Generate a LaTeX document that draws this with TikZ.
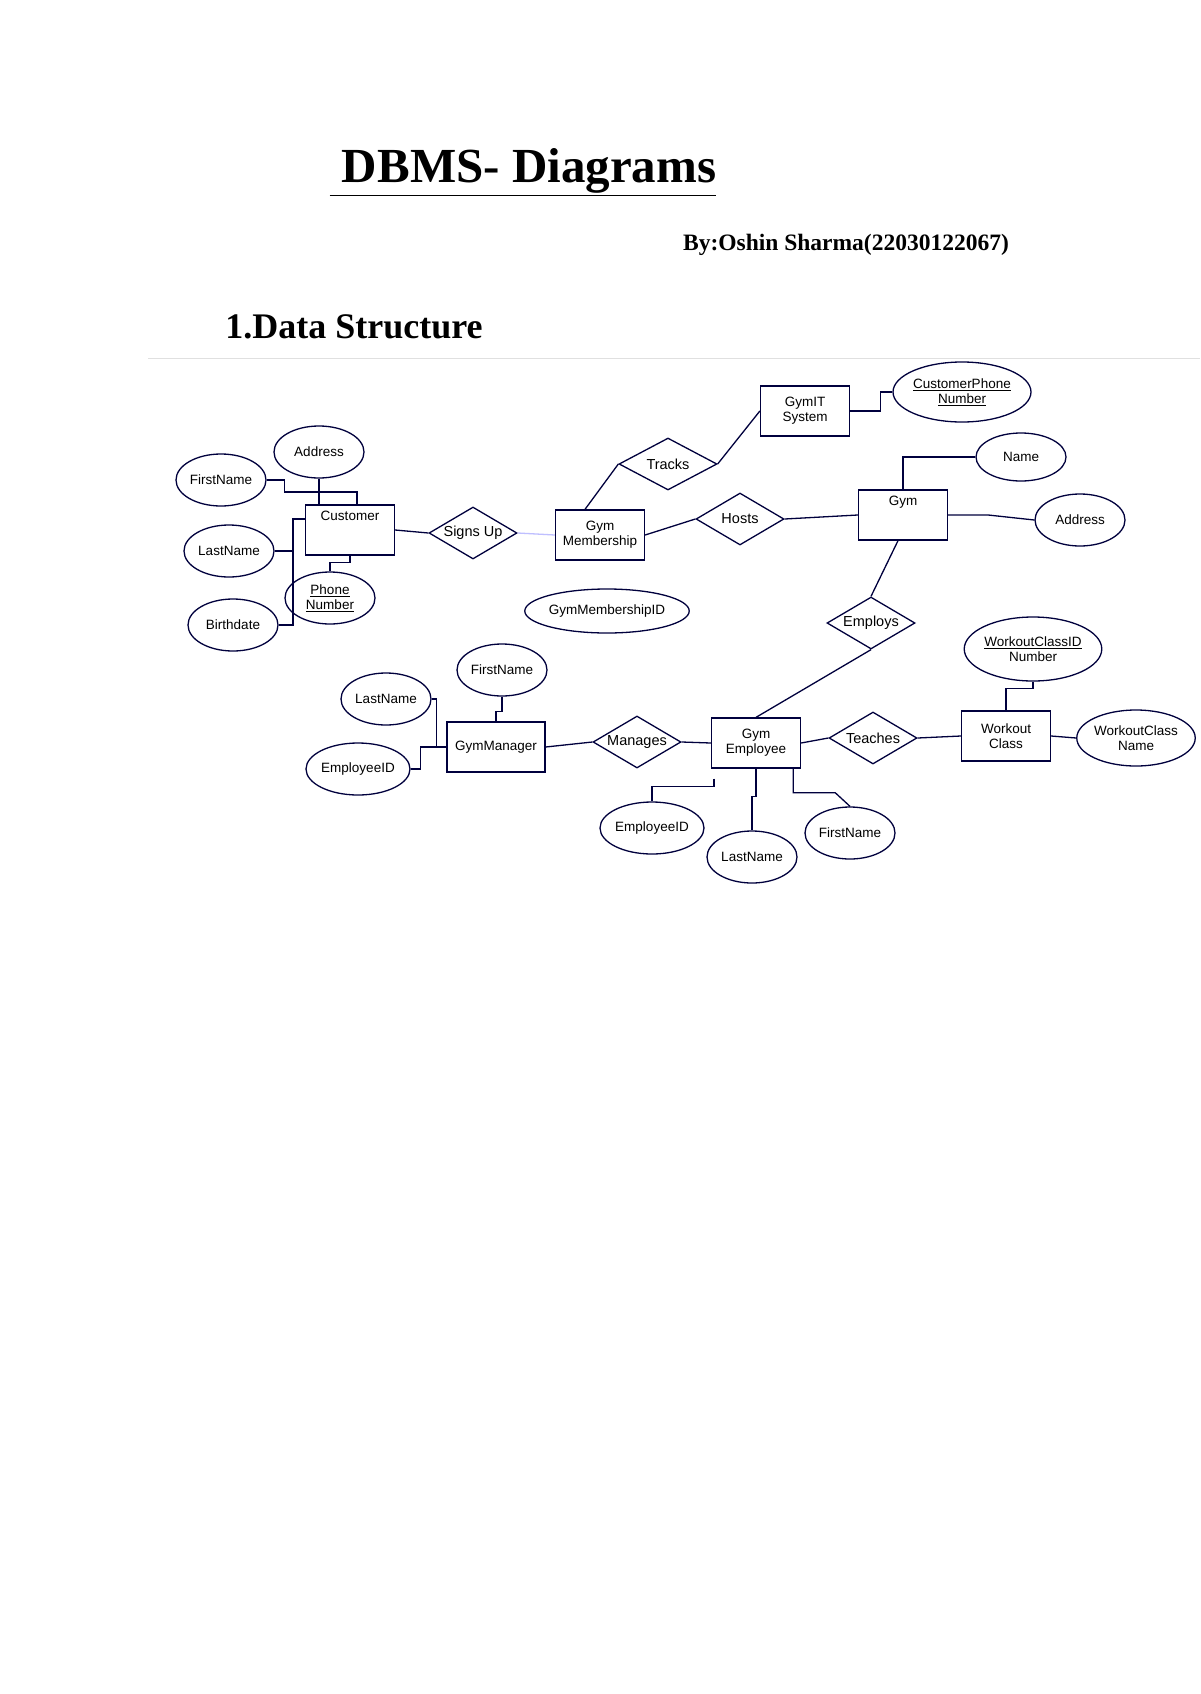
\documentclass[tikz,border=0pt]{standalone}
\usepackage{fontspec}
\setmainfont{Liberation Serif}
\newfontfamily\diag{Liberation Sans}
\usetikzlibrary{shapes.geometric,calc}
\begin{document}
\begin{tikzpicture}[x=1pt,y=-1pt,
  ln/.style={draw=black!40!blue!40!black,line width=1.3pt},
  ent/.style={ln,rectangle,minimum width=89pt,minimum height=50pt,font=\diag\fontsize{13.5}{15}\selectfont,align=center,inner sep=2pt},
  rel/.style={ln,diamond,aspect=1.8,minimum width=88pt,minimum height=52pt,inner sep=0pt,font=\diag\fontsize{14.5}{16}\selectfont},
  att/.style={ln,ellipse,minimum width=90pt,minimum height=52pt,inner sep=0pt,font=\diag\fontsize{13.5}{15}\selectfont,align=center}]
\useasboundingbox (0,0) rectangle (1200,1694);
\fill[white] (0,0) rectangle (1200,1694);
\node[font=\bfseries\fontsize{49}{53}\selectfont] (title) at (523,172) {\underline{\ DBMS- Diagrams}};
\node[font=\bfseries\fontsize{23.5}{26}\selectfont] (by) at (846,245) {By:Oshin Sharma(22030122067)};
\node[font=\bfseries\fontsize{36}{40}\selectfont] (sec) at (354,327) {1.Data Structure};
\draw[black!12,line width=1pt] (148,358) -- (1200,358);
% entities
\node[ent] (cust) at (350,530) {Customer\\[14pt]\mbox{}};
\node[ent] (gm) at (600,535) {Gym\\Membership};
\node[ent] (git) at (805,411) {GymIT\\System};
\node[ent] (gym) at (903,515) {Gym\\[14pt]\mbox{}};
\node[ent] (emp) at (756,743) {Gym\\Employee};
\node[ent,minimum width=98pt] (mgr) at (496,747) {GymManager};
\node[ent] (wc) at (1006,736) {Workout\\Class};
% relationships
\node[rel] (signs) at (473,533) {Signs Up};
\node[rel,minimum width=98pt] (tracks) at (668,464) {Tracks};
\node[rel] (hosts) at (740,519) {Hosts};
\node[rel] (employs) at (871,623) {Employs};
\node[rel] (manages) at (637,742) {Manages};
\node[rel] (teaches) at (873,738) {Teaches};
% attributes
\node[att] (caddr) at (319,452) {Address};
\node[att] (cfn) at (221,480) {FirstName};
\node[att] (cln) at (229,551) {LastName};
\node[att] (cbd) at (233,625) {Birthdate};
\node[att] (cph) at (330,598) {\underline{Phone}\\\underline{Number}};
\node[att,minimum width=152pt,minimum height=44pt] (gmid) at (607,611) {GymMembershipID};
\node[att,minimum width=108pt,minimum height=60pt] (cpn) at (962,392) {\underline{CustomerPhone}\\\underline{Number}};
\node[att,minimum height=48pt] (gname) at (1021,457) {Name};
\node[att] (gaddr) at (1080,520) {Address};
\node[att,minimum width=104pt,minimum height=64pt] (wcid) at (1033,649) {\underline{WorkoutClassID}\\Number};
\node[att,minimum height=56pt,minimum width=96pt] (wcn) at (1136,738) {WorkoutClass\\Name};
\node[att] (mfn) at (502,670) {FirstName};
\node[att] (mln) at (386,699) {LastName};
\node[att] (meid) at (358,769) {EmployeeID};
\node[att] (eeid) at (652,828) {EmployeeID};
\node[att] (eln) at (752,857) {LastName};
\node[att] (efn) at (850,833) {FirstName};
% connectors
\draw[ln] (cfn.east) -| ($(cfn.east)+(18,12)$) -| ($(cust.north)+(7,0)$);
\draw[ln] (caddr.south) -- (caddr.south |- cust.north);
\draw[ln] (cln.east) -| ($(cust.west)+(-12,-11)$) -- ($(cust.west)+(0,-11)$);
\draw[ln] (cbd.east) -| ($(cust.west)+(-12,-11)$);
\draw[ln] (cph.north) -- ++(0,-9) -| ($(cust.south)+(0,0)$);
\draw[ln] (cust.east) -- (signs.west);
\draw[ln,draw=blue!25] (signs.east) -- (gm.west);
\draw[ln] ($(gm.north)+(-15,0)$) -- (tracks.west);
\draw[ln] (tracks.east) -- (git.west);
\draw[ln] (git.east) -- ++(30,0) |- (cpn.west);
\draw[ln] (gm.east) -- (hosts.west);
\draw[ln] (hosts.east) -- (gym.west);
\draw[ln] (gym.north) -- (gym.north |- gname.west) -- (gname.west);
\draw[ln] (gym.east) -- ++(40,0) -- (gaddr.west);
\draw[ln] ($(gym.south)+(-5,0)$) -- (employs.north);
\draw[ln] (employs.south) -- (emp.north);
\draw[ln] (mgr.east) -- (manages.west);
\draw[ln] (manages.east) -- (emp.west);
\draw[ln] (emp.east) -- (teaches.west);
\draw[ln] (teaches.east) -- (wc.west);
\draw[ln] (wc.east) -- (wcn.west);
\draw[ln] (wc.north) -- ++(0,-22) -| (wcid.south);
\draw[ln] ($(emp.south west)+(3,10)$) -- ++(0,8) -| (eeid.north);
\draw[ln] (emp.south) -- ++(0,28) -| (eln.north);
\draw[ln] ($(emp.south east)+(-8,0)$) |- ++(42,24) -- (efn.north);
\draw[ln] (mgr.north) -- ++(0,-10) -| (mfn.south);
\draw[ln] (mln.east) -| ($(mgr.west)+(-10,0)$) -- (mgr.west);
\draw[ln] (meid.east) -- ++(10,0) |- (mgr.west);
\end{tikzpicture}
\end{document}
